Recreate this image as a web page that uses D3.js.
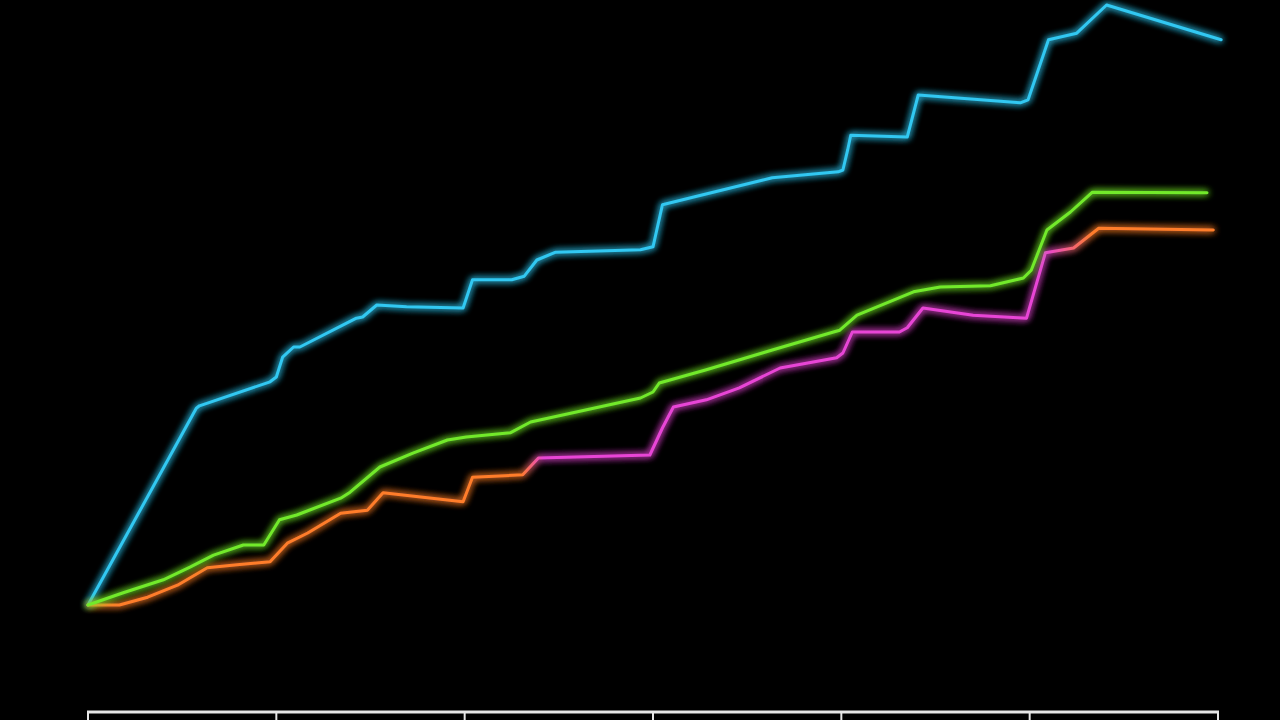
<!DOCTYPE html>
<html>
<head>
<meta charset="utf-8">
<script src="https://cdn.jsdelivr.net/npm/d3@7"></script>
<style>
  html, body { margin: 0; padding: 0; background: #000; }
  svg { display: block; }
</style>
</head>
<body>
<svg id="chart"></svg>
<script>
// Series values, [month, value] pairs
var cyanSeries = [[0,0],[6.9,32.8],[7.1,33.2],[11.6,37.2],[12.0,38.0],[12.4,41.3],[13.1,43.0],[13.5,43.0],
  [17.1,47.8],[17.5,48.0],[18.4,50.0],[20.3,49.7],[23.9,49.5],[24.5,54.2],[27.0,54.2],[27.8,54.8],
  [28.6,57.5],[29.8,58.8],[35.2,59.2],[36.0,59.7],[36.6,66.7],[38.6,68.0],[43.6,71.2],[47.8,72.2],
  [48.1,72.5],[48.4,75.8],[48.6,78.3],[52.2,78.0],[52.9,85.0],[59.4,83.7],[59.9,84.2],[61.2,94.2],
  [63.0,95.3],[64.9,100],[72.2,94.2]];

var greenSeries = [[0,0],[2.2,2.0],[4.8,4.2],[6.5,6.3],[8.0,8.3],[9.9,10.0],[11.2,10.0],[12.2,14.2],
  [13.3,15.0],[16.1,17.8],[16.7,18.8],[18.6,23.0],[20.7,25.3],[22.9,27.5],[24.1,28.0],[26.9,28.7],
  [28.2,30.5],[35.2,34.5],[36.0,35.5],[36.4,37.0],[39.4,39.2],[43.6,42.5],[47.5,45.5],[47.9,45.8],
  [49.0,48.3],[52.6,52.2],[54.3,53.0],[57.5,53.2],[59.6,54.5],[60.1,55.8],[61.1,62.5],[62.6,65.5],
  [64.0,68.8],[71.3,68.7]];

var orangeSeries = [[0,0],[2.0,0],[3.8,1.3],[5.7,3.3],[7.6,6.2],[9.5,6.7],[11.6,7.2],[12.7,10.3],
  [14.0,12.0],[16.1,15.3],[17.8,15.8],[18.8,18.7],[21.2,18.0],[23.9,17.2],[24.5,21.3],[27.7,21.7],
  [28.7,24.5],[35.8,25.0],[36.6,29.5],[37.3,33.0],[39.4,34.2],[41.5,36.2],[44.1,39.5],[47.7,41.2],
  [48.1,42.0],[48.7,45.5],[51.7,45.5],[52.2,46.2],[53.2,49.5],[56.4,48.3],[59.8,47.8],[61.0,58.7],
  [62.8,59.5],[64.4,62.8],[71.7,62.5]];

// months where the lower line turns pink and back to orange
var pinkStart = [27.6, 29.0];
var pinkEnd = [61.0, 64.0];

// period dividers along the bottom band (every 12 months)
var periodTicks = [0, 12, 24, 36, 48, 60, 72];

var width = 1280,
    height = 720;

var x = d3.scaleLinear().domain([0, 72]).range([88, 1218]);
var y = d3.scaleLinear().domain([0, 100]).range([605, 5]);

var svg = d3.select("#chart")
  .attr("width", width)
  .attr("height", height);

svg.append("rect")
  .attr("width", width)
  .attr("height", height)
  .attr("fill", "#000");

var defs = svg.append("defs");

// neon glow
var glow = defs.append("filter")
  .attr("id", "glow")
  .attr("x", "-10%").attr("y", "-10%")
  .attr("width", "120%").attr("height", "120%");
glow.append("feGaussianBlur")
  .attr("in", "SourceGraphic")
  .attr("stdDeviation", 3.5)
  .attr("result", "blur");
var merge = glow.append("feMerge");
merge.append("feMergeNode").attr("in", "blur");
merge.append("feMergeNode").attr("in", "blur");
merge.append("feMergeNode").attr("in", "SourceGraphic");

// orange -> pink -> orange along x
var grad = defs.append("linearGradient")
  .attr("id", "orangePink")
  .attr("gradientUnits", "userSpaceOnUse")
  .attr("x1", x(0)).attr("y1", 0)
  .attr("x2", x(72)).attr("y2", 0);
var stops = [
  [0, "#ff7d2a"], [pinkStart[0], "#ff7d2a"], [pinkStart[1], "#e845d6"],
  [pinkEnd[0], "#e845d6"], [pinkEnd[1], "#ff7d2a"], [72, "#ff7d2a"]
];
stops.forEach(function(s) {
  grad.append("stop")
    .attr("offset", (x(s[0]) - x(0)) / (x(72) - x(0)))
    .attr("stop-color", s[1]);
});

var line = d3.line()
  .x(function(d) { return x(d[0]); })
  .y(function(d) { return y(d[1]); })
  .curve(d3.curveLinear);

var series = [
  { data: cyanSeries, color: "#30c8f2" },
  { data: orangeSeries, color: "url(#orangePink)" },
  { data: greenSeries, color: "#72ea2c" }
];

svg.selectAll(".series")
  .data(series)
  .enter().append("path")
  .attr("class", "series")
  .attr("d", function(d) { return line(d.data); })
  .attr("fill", "none")
  .attr("stroke", function(d) { return d.color; })
  .attr("stroke-width", 3)
  .attr("stroke-linejoin", "round")
  .attr("stroke-linecap", "round")
  .attr("filter", "url(#glow)");

// bottom band, cut off by the frame edge
var band = svg.append("g").attr("class", "band");
band.append("line")
  .attr("x1", x(0) - 1).attr("x2", x(72) + 1)
  .attr("y1", 712).attr("y2", 712)
  .attr("stroke", "#e6e6e6")
  .attr("stroke-width", 3);
band.selectAll(".divider")
  .data(periodTicks)
  .enter().append("line")
  .attr("class", "divider")
  .attr("x1", function(d) { return x(d); })
  .attr("x2", function(d) { return x(d); })
  .attr("y1", 712).attr("y2", 722)
  .attr("stroke", "#e6e6e6")
  .attr("stroke-width", 2);
</script>
</body>
</html>
